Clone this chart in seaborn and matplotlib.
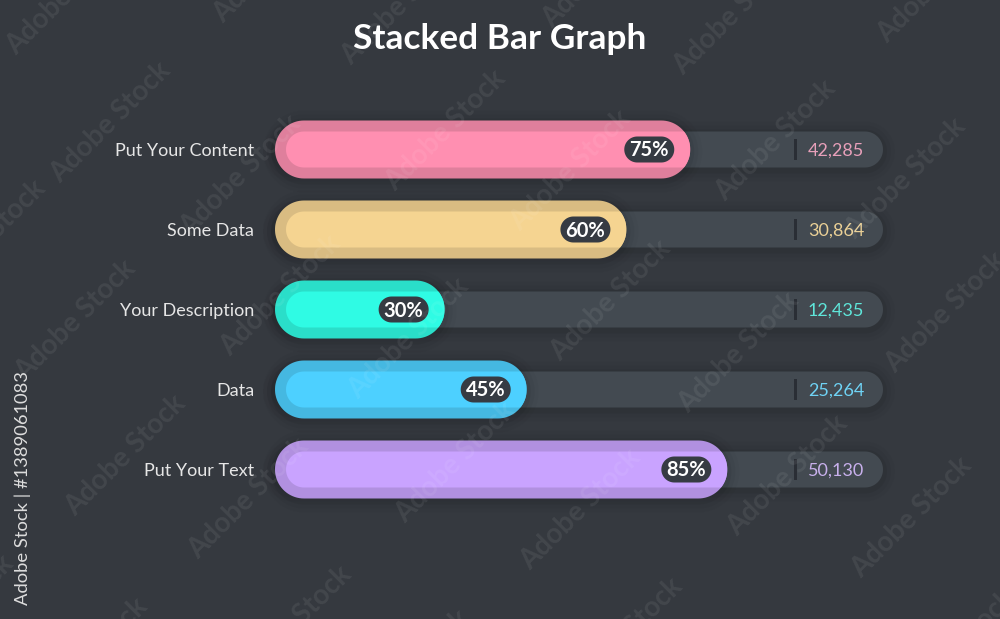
# ---- Stacked Bar Graph, dark infographic ----
import matplotlib
matplotlib.use("Agg")
import matplotlib.pyplot as plt
import numpy as np
import pandas as pd
import seaborn as sns
from matplotlib.patches import Polygon, Rectangle
from matplotlib.transforms import IdentityTransform

# ---- Data ----
labels = ["Put Your Content", "Some Data", "Your Description", "Data", "Put Your Text"]
percent_text = ["75%", "60%", "30%", "45%", "85%"]
value_text = ["42,285", "30,864", "12,435", "25,264", "50,130"]
# the artwork is not to scale, so these are bar lengths as share of the track
fill_share = [68.3, 57.8, 27.9, 41.4, 74.4]
track_share = [100, 100, 100, 100, 100]

bar_colors = ["#FF8FB1", "#F5D491", "#2FFBE4", "#4DD0FF", "#C9A3FF"]
edge_colors = ["#DF7F9C", "#D9BC82", "#2ADEC9", "#45B8E1", "#B190E0"]
value_colors = ["#E8A0BA", "#EAD096", "#5FE6DA", "#6FD3F5", "#C8B0EC"]

BG = "#35393F"
TRACK = "#434A51"
PILL = "#363B43"

wm_spots = [(66, -6), (273, -38), (401, 4), (602, -33), (733, 14), (937, -18),
            (110, 122), (445, 130), (775, 140),
            (240, 175), (570, 170), (905, 178), (-15, 240), (280, 295), (610, 300), (945, 312),
            (75, 320), (408, 338), (738, 352), (125, 455), (455, 462), (787, 475),
            (248, 498), (580, 509), (911, 517), (291, 626), (622, 638), (955, 650),
            (87, 658), (409, 670), (-47, 615)]

df = pd.DataFrame({"label": labels, "fill": fill_share, "track": track_share})

# ---- Figure ----
sns.set_theme(style="dark", rc={"axes.facecolor": BG, "figure.facecolor": BG})
plt.rcParams["font.family"] = ["Lato", "DejaVu Sans"]

W, H = 1000, 619
fig = plt.figure(figsize=(W / 100, H / 100), dpi=100)
ax = fig.add_axes([275 / W, 1 - 509.5 / H, 608 / W, 400 / H])

sns.barplot(data=df, y="label", x="track", color=TRACK, width=0.45, saturation=1, ax=ax)
sns.barplot(data=df, y="label", x="fill", hue="label", palette=bar_colors, width=0.725,
            saturation=1, legend=False, ax=ax)
ax.set_xlim(0, 100)
ax.set_ylim(4.5, -0.5)
sns.despine(ax=ax, left=True, bottom=True)
ax.set_xlabel("")
ax.set_ylabel("")
ax.set_xticks([])
ax.tick_params(axis="y", left=False, length=0, pad=15, labelsize=13, labelcolor="#E6E6E6")
ax.grid(False)
ax.patch.set_alpha(0)
ax.set_zorder(7)


def pill(x0, y0, x1, y1, color, z, alpha=1.0, square_right=False):
    # stadium shape in pixel coordinates, true half circles at the ends
    r = (y1 - y0) / 2
    cy = (y0 + y1) / 2
    t = np.linspace(np.pi / 2, 3 * np.pi / 2, 40)
    left = np.column_stack([x0 + r + r * np.cos(t), cy + r * np.sin(t)])
    if square_right:
        right = np.array([[x1, y0], [x1, y1]])
    else:
        right = np.column_stack([x1 - r - r * np.cos(t), cy - r * np.sin(t)])
    p = Polygon(np.vstack([left, right]), closed=True, transform=IdentityTransform(),
                facecolor=color, edgecolor="none", alpha=alpha, zorder=z)
    fig.add_artist(p)
    return p


# ---- Swap the square bars for rounded ones ----
bars = list(ax.patches)
tracks = sorted(bars[:5], key=lambda b: b.get_y())
fills = sorted(bars[5:], key=lambda b: b.get_y())

for i in range(5):
    tb = tracks[i].get_window_extent()
    fb = fills[i].get_window_extent()
    tracks[i].set_visible(False)
    fills[i].set_visible(False)

    # soft shadows
    for grow, a in [(12, 0.02), (8, 0.03), (4, 0.05)]:
        pill(tb.x0 - grow, tb.y0 - grow - 2, tb.x1 + grow, tb.y1 + grow - 2, "black", 1, a)
        pill(fb.x0 - grow, fb.y0 - grow - 2, fb.x1 + grow, fb.y1 + grow - 2, "black", 3, a)

    pill(tb.x0, tb.y0, tb.x1, tb.y1, TRACK, 2)
    outer = pill(fb.x0, fb.y0, fb.x1, fb.y1, edge_colors[i], 4)
    # lighter core, same height as the track, runs out through the right cap
    core = pill(fb.x0 + 11, tb.y0, fb.x1, tb.y1, bar_colors[i], 5, square_right=True)
    core.set_clip_path(outer)

    cy = (tb.y0 + tb.y1) / 2
    pill(fb.x1 - 66, cy - 13, fb.x1 - 16, cy + 13, PILL, 6)
    fig.text((fb.x1 - 41) / W, (cy + 1) / H, percent_text[i], color="white", fontsize=14.5,
             fontweight="bold", ha="center", va="center_baseline", zorder=8)

    # separator and value on the track
    fig.add_artist(Rectangle((793.5, cy - 10.5), 3, 21, transform=IdentityTransform(),
                             facecolor="#2A2E35", edgecolor="none", zorder=6))
    ax.text(92.3, i, value_text[i], color=value_colors[i], fontsize=13, ha="center",
            va="center_baseline", zorder=8)

# ---- Title ----
fig.text(0.4995, 1 - 36 / H, "Stacked Bar Graph", color="white", fontsize=25.4,
         fontweight="bold", ha="center", va="center_baseline")

# ---- Watermark as in the source image ----
for (x, y) in wm_spots:
    fig.text(x / W, 1 - y / H, "Adobe Stock", color="white", alpha=0.07, fontsize=20,
             fontweight="bold", rotation=45, ha="center", va="center", zorder=9)
fig.text(23 / W, 1 - 488 / H, "Adobe Stock | #1389061083", color="#DDDDDD", fontsize=13.2,
         rotation=90, ha="center", va="center", zorder=9)

fig.savefig("out.png", dpi=100, facecolor=BG)
